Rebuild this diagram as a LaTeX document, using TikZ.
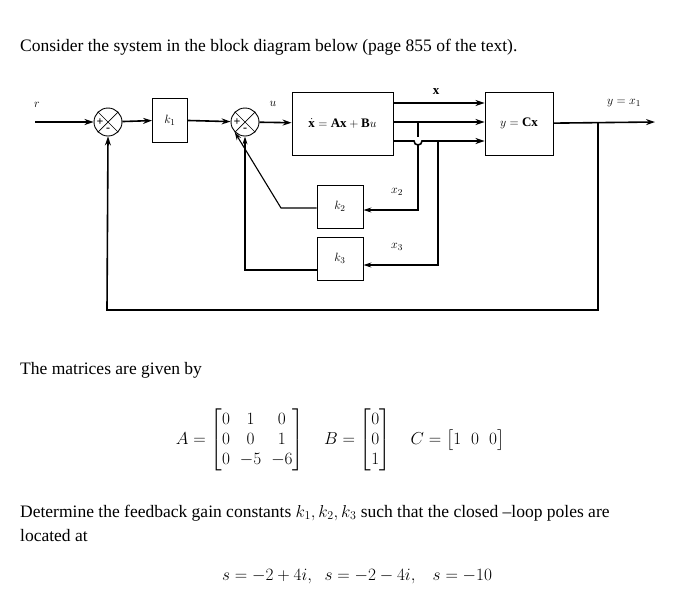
\documentclass[tikz,border=0pt]{standalone}
\usepackage{amsmath}
\usepackage{fontspec}
\setmainfont{Liberation Serif}
\usetikzlibrary{arrows.meta}
\begin{document}
\begin{tikzpicture}[x=1pt,y=-1pt,
  blk/.style={draw,line width=0.9pt,minimum width=35pt,minimum height=44pt,inner sep=0pt,font=\fontsize{13}{15}\selectfont},
  sig/.style={line width=1.6pt,-{Stealth[length=9pt,width=6pt]}},
  thin/.style={line width=1.1pt,-{Stealth[length=8pt,width=5pt]}},
  txt/.style={font=\fontsize{17.5}{20}\selectfont,anchor=west,inner sep=0pt},
  lbl/.style={font=\fontsize{13}{15}\selectfont\itshape,inner sep=1pt}]
\useasboundingbox (0,0) rectangle (678,598);
\node[txt] (t1) at (20,47) {Consider the system in the block diagram below (page 855 of the text).};
% sums
\foreach \n/\x in {s1/108,s2/245}{
  \node[draw,circle,minimum size=28pt,inner sep=0pt,line width=0.9pt] (\n) at (\x,122) {};
  \draw[line width=0.7pt] (\n.north west)--(\n.south east) (\n.north east)--(\n.south west);
  \node[font=\fontsize{12}{12}\selectfont\bfseries,inner sep=0pt] at ([xshift=-8pt]\n.center) {+};
  \node[font=\fontsize{12}{12}\selectfont\bfseries,inner sep=0pt] at ([yshift=-8pt]\n.center) {-};
}
\node[blk] (k1) at (170,120) {$k_1$};
\node[blk,minimum width=101pt,minimum height=63pt] (P) at (342.5,123.5) {$\dot{\mathbf{x}}=\mathbf{A}\mathbf{x}+\mathbf{B}u$};
\node[blk,minimum width=68pt,minimum height=63pt] (Cb) at (519,123.5) {$y=\mathbf{C}\mathbf{x}$};
\node[blk,minimum width=46pt,minimum height=43pt] (k2) at (340,206.5) {$k_2$};
\node[blk,minimum width=46pt,minimum height=43pt] (k3) at (340,258.5) {$k_3$};
\coordinate (r0) at (35,122);
\coordinate (yout) at (655,122);
\draw[sig] (r0) -- (s1);
\node[lbl] at (37,105) {$r$};
\draw[sig] (s1) -- (k1);
\draw[sig] (k1) -- (s2);
\draw[sig] (s2) -- (P);
\node[lbl] at (273,104) {$u$};
\draw[sig] (P.east |- 0,103) -- (Cb.west |- 0,103);
\draw[sig] (P.east |- 0,122) -- (Cb.west |- 0,122);
\draw[sig] (P.east |- 0,141) -- (414,141) arc[start angle=180,end angle=0,radius=4] -- (Cb.west |- 0,141);
\node[font=\fontsize{13}{15}\selectfont\bfseries,inner sep=0pt] at (436,92) {x};
\draw[sig] (Cb) -- (yout);
\node[lbl] at (624,103) {$y=x_1$};
% x2, x3 taps
\draw[line width=1.3pt] (418,122) -- (418,137);
\draw[thin] (418,145) -- (418,210) -- (k2.east |- 0,210);
\node[lbl] at (397,192) {$x_2$};
\draw[thin] (438,141) -- (438,265) -- (k3.east |- 0,265);
\node[lbl] at (397,247) {$x_3$};
\draw[thin] (k2.west |- 0,208) -- (281,208) -- (s2.south west);
\draw[thin] (k3.west |- 0,270) -- (245,270) -- (s2.south);
% outer loop
\draw[sig] (598,122) -- (598,310) -- (107,310) -- (s1.south);
% text
\node[txt] (t2) at (20,370) {The matrices are given by};
\node[inner sep=0pt,font=\fontsize{17}{20}\selectfont] (m) at (340,440)
 {$A=\begin{bmatrix}0&1&0\\0&0&1\\0&-5&-6\end{bmatrix}\quad
   B=\begin{bmatrix}0\\0\\1\end{bmatrix}\quad
   C=\begin{bmatrix}1&0&0\end{bmatrix}$};
\node[txt] (t3) at (20,513) {Determine the feedback gain constants $k_1, k_2, k_3$ such that the closed --loop poles are};
\node[txt] (t4) at (20,536) {located at};
\node[txt] (t5) at (222,577) {$s=-2+4i,\;\; s=-2-4i,\;\;\; s=-10$};
\end{tikzpicture}
\end{document}
